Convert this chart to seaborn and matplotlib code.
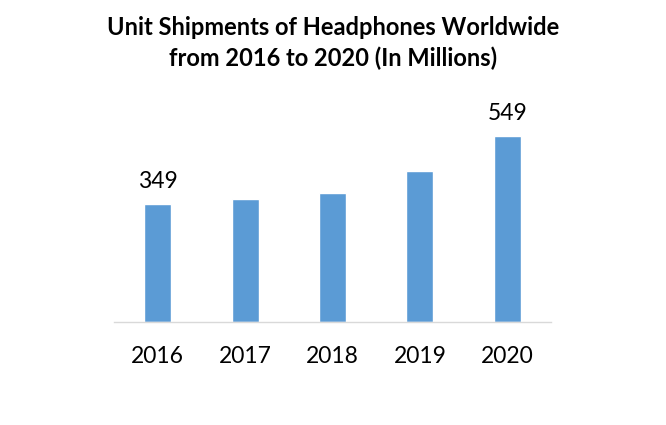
import matplotlib
matplotlib.use("Agg")
import matplotlib.pyplot as plt
import seaborn as sns
import pandas as pd

years = ["2016", "2017", "2018", "2019", "2020"]
shipments = [349, 364, 381, 446, 549]
labeled = {"2016": "349", "2020": "549"}

sns.set_theme(style="white")
plt.rcParams['font.family'] = ['Lato', 'DejaVu Sans']
plt.rcParams['text.color'] = '#000000'

df = pd.DataFrame({"year": years, "value": shipments})

fig = plt.figure(figsize=(6.66, 4.25), dpi=100)
ax = fig.add_axes([114/666, 1 - 322/425, 437/666, 222/425])
sns.barplot(data=df, x="year", y="value", color="#5B9BD5", saturation=1,
            width=0.31, ax=ax)
ax.set_ylim(0, 656)
ax.set_xlim(-0.5, 4.5)
for s in ["top", "right", "left"]:
    ax.spines[s].set_visible(False)
ax.spines["bottom"].set_color("#d9d9d9")
ax.spines["bottom"].set_linewidth(1)
ax.set_yticks([])
ax.set_xlabel("")
ax.set_ylabel("")
ax.tick_params(axis="x", length=0, pad=17, labelsize=16.5, labelcolor="#000000")

for i, (y, v) in enumerate(zip(years, shipments)):
    if y in labeled:
        ax.text(i, v + 36, labeled[y], ha="center", va="bottom", fontsize=16.5, color="#000000")

fig.text(0.5, 1 - 43/425, "Unit Shipments of Headphones Worldwide\nfrom 2016 to 2020 (In Millions)",
         ha="center", va="center", fontsize=17, fontweight="bold", linespacing=1.35,
         color="#000000")

fig.savefig("out.png", dpi=100)
